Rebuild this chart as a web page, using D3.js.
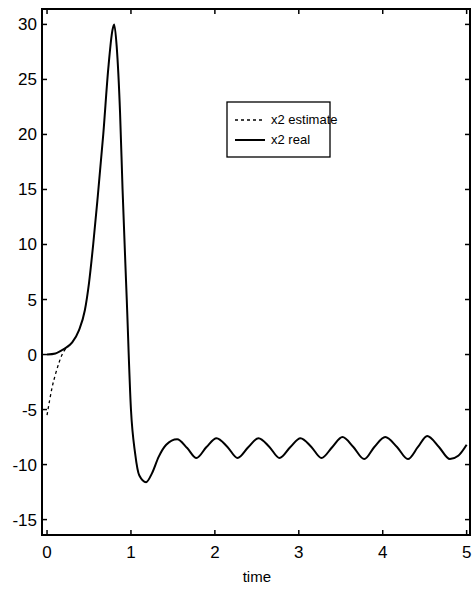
<!DOCTYPE html><html><head><script src="https://d3js.org/d3.v7.min.js"></script>
<style>body{margin:0;background:#fff}svg{font-family:Arial,"Liberation Sans",sans-serif}</style></head><body><svg width="474" height="612"></svg>
<script>
const realT=[0,0.1,0.2,0.3,0.38,0.45,0.5,0.55,0.6,0.67,0.73,0.78,0.8,0.83,0.87,0.9,0.95,1.0,1.05,1.1,1.18,1.25,1.33,1.42,1.55,1.67,1.78,1.9,2.02,2.15,2.27,2.4,2.52,2.65,2.77,2.9,3.02,3.15,3.27,3.4,3.52,3.65,3.78,3.9,4.03,4.17,4.3,4.42,4.53,4.67,4.8,4.9,5.0];
const realV=[0,0.1,0.5,1.1,2.2,4,6.5,10,14,20,26,29.5,30,28,22,15,5,-5,-9,-11,-11.6,-10.8,-9.3,-8.2,-7.7,-8.5,-9.4,-8.4,-7.6,-8.4,-9.4,-8.4,-7.6,-8.4,-9.4,-8.4,-7.6,-8.4,-9.4,-8.4,-7.5,-8.4,-9.5,-8.4,-7.5,-8.4,-9.5,-8.4,-7.4,-8.4,-9.5,-9.2,-8.2];
const estT=[0,0.03,0.06,0.1,0.14,0.18,0.22,0.25];
const estV=[-5.5,-4.2,-3.0,-1.8,-0.8,0,0.5,0.7];
const xTicks=[0,1,2,3,4,5], yTicks=[-15,-10,-5,0,5,10,15,20,25,30];
const svg=d3.select("svg");
const L=42,R=470,T=9,B=535;
const x=d3.scaleLinear().domain([-0.06,5.04]).range([L,R]);
const y=d3.scaleLinear().domain([-16.4,31.4]).range([B,T]);
const g=svg.append("g");
g.append("rect").attr("x",L).attr("y",T).attr("width",R-L).attr("height",B-T).attr("fill","none").attr("stroke","#000").attr("stroke-width",2);
const fs=17;
xTicks.forEach(v=>{g.append("line").attr("x1",x(v)).attr("x2",x(v)).attr("y1",B).attr("y2",B-5).attr("stroke","#000").attr("stroke-width",1.5);
 g.append("line").attr("x1",x(v)).attr("x2",x(v)).attr("y1",T).attr("y2",T+5).attr("stroke","#000").attr("stroke-width",1.5);
 g.append("text").attr("x",x(v)).attr("y",B+23).attr("text-anchor","middle").attr("font-size",fs).text(v);});
yTicks.forEach(v=>{g.append("line").attr("x1",L).attr("x2",L+5).attr("y1",y(v)).attr("y2",y(v)).attr("stroke","#000").attr("stroke-width",1.5);
 g.append("line").attr("x1",R).attr("x2",R-5).attr("y1",y(v)).attr("y2",y(v)).attr("stroke","#000").attr("stroke-width",1.5);
 g.append("text").attr("x",L-5).attr("y",y(v)+6).attr("text-anchor","end").attr("font-size",fs).text(v);});
g.append("text").attr("x",x(2.5)).attr("y",B+47).attr("text-anchor","middle").attr("font-size",15).text("time");
const line=d3.line().x(d=>x(d[0])).y(d=>y(d[1])).curve(d3.curveMonotoneX);
g.append("path").attr("d",line(realT.map((t,i)=>[t,realV[i]]))).attr("fill","none").attr("stroke","#000").attr("stroke-width",2);
g.append("path").attr("d",line(estT.map((t,i)=>[t,estV[i]]))).attr("fill","none").attr("stroke","#000").attr("stroke-width",1.3).attr("stroke-dasharray","3,3");
const lx=227,ly=102;
g.append("rect").attr("x",lx).attr("y",ly).attr("width",103).attr("height",55).attr("fill","#fff").attr("stroke","#000").attr("stroke-width",1.3);
[["x2 estimate","3,3",1.3],["x2 real",null,2]].forEach((d,i)=>{const yy=ly+18+i*20;
 const l=g.append("line").attr("x1",lx+8).attr("x2",lx+38).attr("y1",yy).attr("y2",yy).attr("stroke","#000").attr("stroke-width",d[2]);
 if(d[1])l.attr("stroke-dasharray",d[1]);
 g.append("text").attr("x",lx+44).attr("y",yy+4).attr("font-size",13).text(d[0]);});
</script></body></html>
